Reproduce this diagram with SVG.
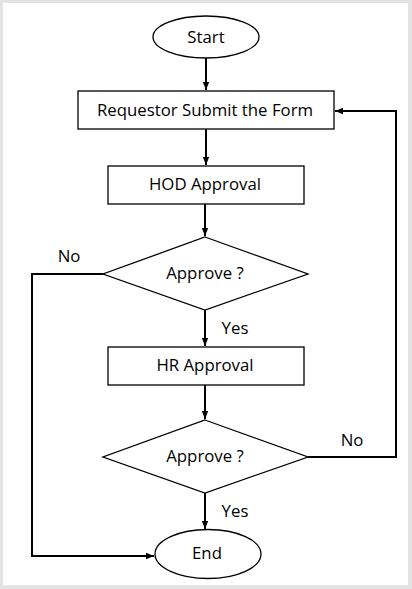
<svg xmlns="http://www.w3.org/2000/svg" width="412" height="589" viewBox="0 0 412 589">
<defs>
<style>
.shape{fill:#fff;stroke:#000;stroke-width:1.3}
.lbl{font-family:"Open Sans","Liberation Sans",sans-serif;font-size:16.8px;fill:#000;text-anchor:middle;dominant-baseline:central}
.conn{fill:none;stroke:#000;stroke-width:2}
</style>
<marker id="ah" viewBox="0 0 10 10" refX="10" refY="5" markerWidth="4" markerHeight="4" markerUnits="strokeWidth" orient="auto">
<path d="M0,1 L10,5 L0,9 z" fill="#000"/>
</marker>
</defs>
<rect x="0" y="0" width="412" height="589" fill="#e3e3e3"/>
<rect x="3" y="3" width="405" height="582" fill="#fff"/>
<g id="start">
<ellipse class="shape" cx="206" cy="37" rx="53" ry="21"/>
<text class="lbl" x="206" y="36">Start</text>
</g>
<g id="submit">
<rect class="shape" x="78" y="91" width="256" height="38"/>
<text class="lbl" x="205" y="109">Requestor Submit the Form</text>
</g>
<g id="hod">
<rect class="shape" x="108" y="166" width="196" height="38"/>
<text class="lbl" x="205" y="183">HOD Approval</text>
</g>
<g id="approve1">
<polygon class="shape" points="205,237 308,274 205,310 103,274"/>
<text class="lbl" x="205" y="272">Approve ?</text>
</g>
<g id="hr">
<rect class="shape" x="108" y="347" width="196" height="38"/>
<text class="lbl" x="205" y="364">HR Approval</text>
</g>
<g id="approve2">
<polygon class="shape" points="205,420 308,457 205,493 103,457"/>
<text class="lbl" x="205" y="455">Approve ?</text>
</g>
<g id="end">
<ellipse class="shape" cx="208" cy="554" rx="53" ry="24.5"/>
<text class="lbl" x="207" y="552">End</text>
</g>
<g id="connectors">
<path class="conn" d="M206,58 V90" marker-end="url(#ah)"/>
<path class="conn" d="M206,129 V165" marker-end="url(#ah)"/>
<path class="conn" d="M205,204 V236" marker-end="url(#ah)"/>
<path class="conn" d="M205,310 V346" marker-end="url(#ah)"/>
<path class="conn" d="M205,385 V419" marker-end="url(#ah)"/>
<path class="conn" d="M205,493 V529" marker-end="url(#ah)"/>
<path class="conn" d="M103,274 H32 V556 H154" marker-end="url(#ah)"/>
<path class="conn" d="M308,457 H396 V111 H335" marker-end="url(#ah)"/>
<text class="lbl" x="69" y="255">No</text>
<text class="lbl" x="235" y="327">Yes</text>
<text class="lbl" x="352" y="439">No</text>
<text class="lbl" x="235" y="510">Yes</text>
</g>
</svg>
